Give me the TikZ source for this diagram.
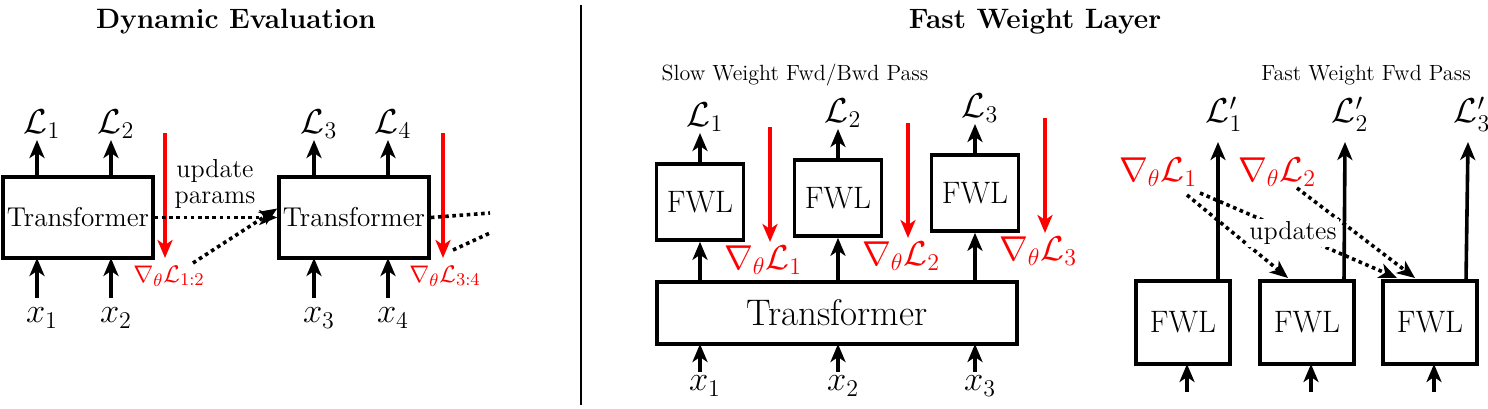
\documentclass[tikz,border=0pt]{standalone}
\usetikzlibrary{arrows.meta}
\begin{document}
\begin{tikzpicture}[x=0.5pt,y=-0.5pt,
  box/.style={draw,line width=1.8pt,inner sep=0pt},
  ar/.style={line width=1.8pt,-{Stealth[length=9pt,width=7.5pt,inset=2.5pt]}},
  red/.style={draw=red,line width=1.8pt,-{Stealth[length=9pt,width=7.5pt,inset=2.5pt]}},
  dot/.style={line width=1.8pt,dash pattern=on 1.8pt off 1.8pt},
  dota/.style={dot,-{Stealth[length=9pt,width=7.5pt,inset=2.5pt]}},
  lab/.style={font=\fontsize{17}{20}\selectfont,inner sep=0pt},
  rlab/.style={text=red,font=\fontsize{13}{15}\selectfont,inner sep=0pt},
  rlabb/.style={text=red,font=\fontsize{17}{20}\selectfont,inner sep=0pt},
  ttl/.style={font=\fontsize{14}{16}\bfseries\selectfont},
  sub/.style={font=\fontsize{11}{13}\selectfont}]
\useasboundingbox (0,0) rectangle (1488,408);
% ---------- left ----------
\node[ttl] (t1) at (236,22) {Dynamic Evaluation};
\node[box,minimum width=75pt,minimum height=40.5pt,font=\fontsize{13.6}{16}\selectfont] (T1) at (78,217.5) {Transformer};
\node[box,minimum width=75pt,minimum height=40.5pt,font=\fontsize{13.6}{16}\selectfont] (T2) at (354,217.5) {Transformer};
\foreach \n/\x/\l/\b in {a/37/1/T1,b/111/2/T1,c/314/3/T2,d/388/4/T2}{
  \coordinate (o\n) at (\x,177);
  \node[lab] (L\n) at (\x+5,124) {$\mathcal{L}_\l$};
  \draw[ar] (o\n) -- (\x,140);
  \coordinate (i\n) at (\x,298);
  \draw[ar] (i\n) -- (\x,258);
  \node[lab] (x\n) at (\x+5,318) {$x_\l$};
}
\coordinate (r1s) at (165,133); \coordinate (r1e) at (165,258);
\coordinate (r2s) at (443,133); \coordinate (r2e) at (443,258);
\draw[red] (r1s) -- (r1e);
\draw[red] (r2s) -- (r2e);
\node[rlab] (g12) at (169,276) {$\nabla_\theta\mathcal{L}_{1:2}$};
\node[rlab] (g34) at (445,276) {$\nabla_\theta\mathcal{L}_{3:4}$};
\node[font=\fontsize{13}{15}\selectfont,align=center,inner sep=0pt] (up) at (215,184) {update\\[-2pt]params};
\draw[dota] (T1.east) -- (T2.west);
\coordinate (gs) at (193,263);
\draw[dota] (gs) -- ([yshift=4.5pt]T2.west);
\coordinate (e1) at (490,213); \coordinate (e2) at (490,233);
\draw[dot] (T2.east) -- (e1);
\coordinate (s2) at (453,250);
\draw[dot] (s2) -- (e2);
% separator
\coordinate (sepa) at (581,5); \coordinate (sepb) at (581,405);
\draw[line width=1.3pt] (sepa) -- (sepb);
% ---------- right ----------
\node[ttl] (t2) at (1035,22) {Fast Weight Layer};
\node[sub] (s1) at (795,75) {Slow Weight Fwd/Bwd Pass};
\node[sub] (s3) at (1366,75) {Fast Weight Fwd Pass};
\node[box,minimum width=180pt,minimum height=31pt,font=\fontsize{18.5}{22}\selectfont] (TR) at (837,313) {Transformer};
\foreach \n/\x/\yt/\l in {1/700/164/1,2/838/160/2,3/975/155/3}{
  \node[box,minimum width=43.5pt,minimum height=38pt,font=\fontsize{15.5}{18}\selectfont] (F\n) at (\x,\yt+38) {FWL};
  \draw[ar] (\x,282) -- (F\n.south);
  \draw[ar] (F\n.north) -- (\x,\yt-31);
  \node[lab] (SL\n) at (\x+5,\yt-47) {$\mathcal{L}_\l$};
  \coordinate (ri\n) at (\x,372);
  \draw[ar] (ri\n) -- (\x,344);
  \node[lab] (sx\n) at (\x+5,386) {$x_\l$};
  \draw[red] (\x+70,\yt-37) -- (\x+70,\yt+78);
  \node[rlabb] (sg\n) at (\x+63,\yt+96) {$\nabla_\theta\mathcal{L}_\l$};
}
\foreach \n/\x/\ax in {1/1183/1218,2/1307/1344,3/1430/1466}{
  \node[box,minimum width=47pt,minimum height=41.5pt,font=\fontsize{15.5}{18}\selectfont] (G\n) at (\x,322.5) {FWL};
  \draw[ar] (\ax,281) -- (\ax+\n-1,142);
  \node[lab] (P\n) at (\ax+6,114) {$\mathcal{L}'_\n$};
  \coordinate (gi\n) at (\x+4,392);
  \draw[ar] (gi\n) -- (\x+4,364);
}
\node[rlabb] (h1) at (1158,172) {$\nabla_\theta\mathcal{L}_1$};
\node[rlabb] (h2) at (1277,172) {$\nabla_\theta\mathcal{L}_2$};
\coordinate (d1) at (1187,195); \coordinate (d2) at (1200,193); \coordinate (d3) at (1297,188);
\draw[dota] (d1) -- (1288,278);
\draw[dota] (d2) -- (1397,278);
\draw[dota] (d3) -- (1415,278);
\node[font=\fontsize{13}{15}\selectfont,fill=white,inner sep=1pt] (upd) at (1293,233) {updates};
\end{tikzpicture}
\end{document}
